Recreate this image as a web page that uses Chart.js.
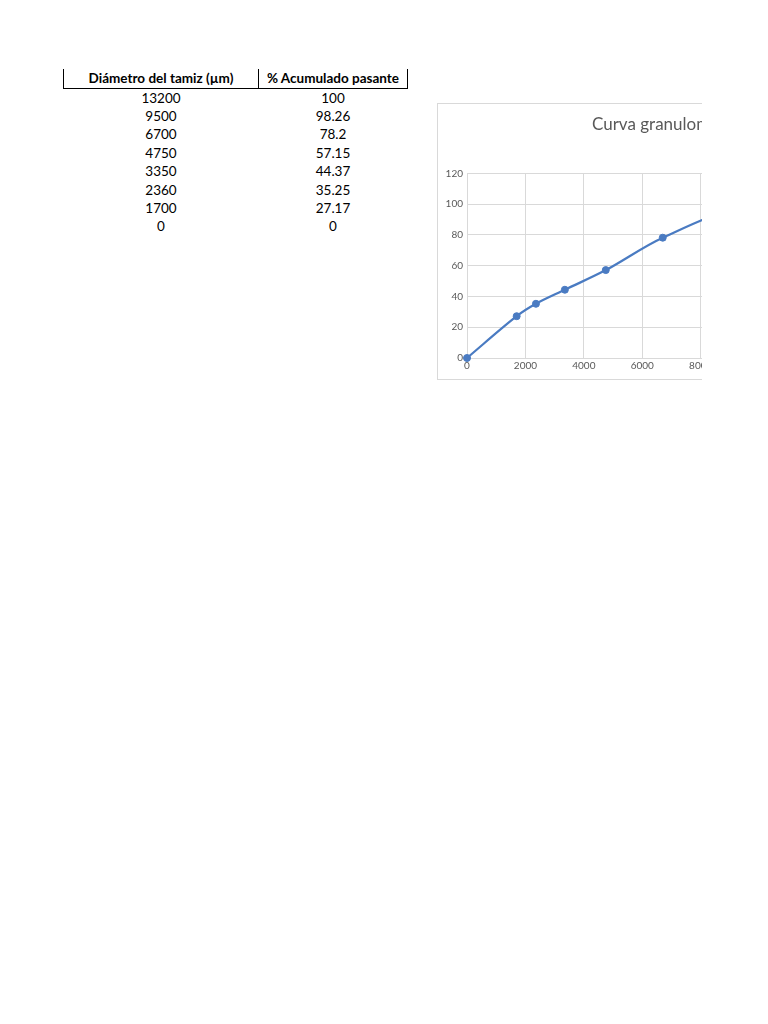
<!DOCTYPE html>
<html>
<head>
<meta charset="utf-8">
<script src="https://cdn.jsdelivr.net/npm/chart.js@4"></script>
<style>
body{
margin:0;
background:#fff;
font-family:Lato, "Open Sans", sans-serif;
}
#tabla{
position:absolute;
left:63px;
top:69px;
border-collapse:collapse;
font-size:13.5px;
color:#000;
}
#tabla th{
font-weight:bold;
height:18.5px;
padding:0;
border-left:1px solid #000;
border-right:1px solid #000;
border-bottom:1px solid #000;
text-align:center;
}
#tabla td{
height:18.4px;
padding:0;
text-align:center;
line-height:18.4px;
}
#chartBox{
position:absolute;
left:437px;
top:103px;
width:265px;
height:277px;
box-sizing:border-box;
border:1px solid #d9d9d9;
border-right:none;
overflow:hidden;
background:#fff;
}
#curva{
position:absolute;
left:0;
top:0;
}
</style>
</head>
<body>

<table id="tabla">
<thead><tr id="cabecera"></tr></thead>
<tbody id="filas"></tbody>
</table>

<div id="chartBox">
<canvas id="curva" width="468" height="275"></canvas>
</div>

<script>
// DATA
let encabezados = ["Diámetro del tamiz (µm)", "% Acumulado pasante"];
let diametro = [13200, 9500, 6700, 4750, 3350, 2360, 1700, 0];
let acumulado = [100, 98.26, 78.2, 57.15, 44.37, 35.25, 27.17, 0];
let titulo = "Curva granulométrica";

// TABLE
let cab = "";
encabezados.forEach((h,i)=>{
cab += `<th style="width:${i==0?194:148}px">${h}</th>`;
});
document.getElementById("cabecera").innerHTML = cab;

let rows = "";
diametro.forEach((d,i)=>{
rows += `<tr><td>${d}</td><td>${acumulado[i]}</td></tr>`;
});
document.getElementById("filas").innerHTML = rows;

// CHART
let puntos = diametro.map((d,i)=>({x:d, y:acumulado[i]}));

let gris = "#595959";
let linea = "#d9d9d9";
let azul = "#4a7bc2";

new Chart(document.getElementById("curva"),{

type:"scatter",

data:{
datasets:[{
data:puntos,
showLine:true,
borderColor:azul,
backgroundColor:azul,
borderWidth:2.25,
tension:0.33,
pointRadius:3.5,
pointBorderWidth:1,
pointHoverRadius:3.5,
clip:false
}]
},

options:{
responsive:false,
animation:false,
devicePixelRatio:1,
layout:{
padding:0
},
plugins:{
legend:{display:false},
tooltip:{enabled:false},
title:{
display:true,
text:titulo,
color:gris,
font:{family:"Lato", size:17, weight:"normal"},
padding:{top:10, bottom:39}
}
},
scales:{
x:{
type:"linear",
min:0,
max:14000,
ticks:{
stepSize:2000,
color:gris,
font:{family:"Lato", size:10},
padding:2,
maxRotation:0,
callback:function(v){ return String(v); }
},
grid:{color:linea, drawTicks:false},
border:{color:linea},
afterFit:function(s){ s.height = 21; s.paddingRight = 30; }
},
y:{
min:0,
max:120,
ticks:{
stepSize:20,
color:gris,
font:{family:"Lato", size:10},
padding:4
},
grid:{color:linea, drawTicks:false},
border:{color:linea},
afterFit:function(s){ s.width = 29; }
}
}
}

});
</script>
</body>
</html>
